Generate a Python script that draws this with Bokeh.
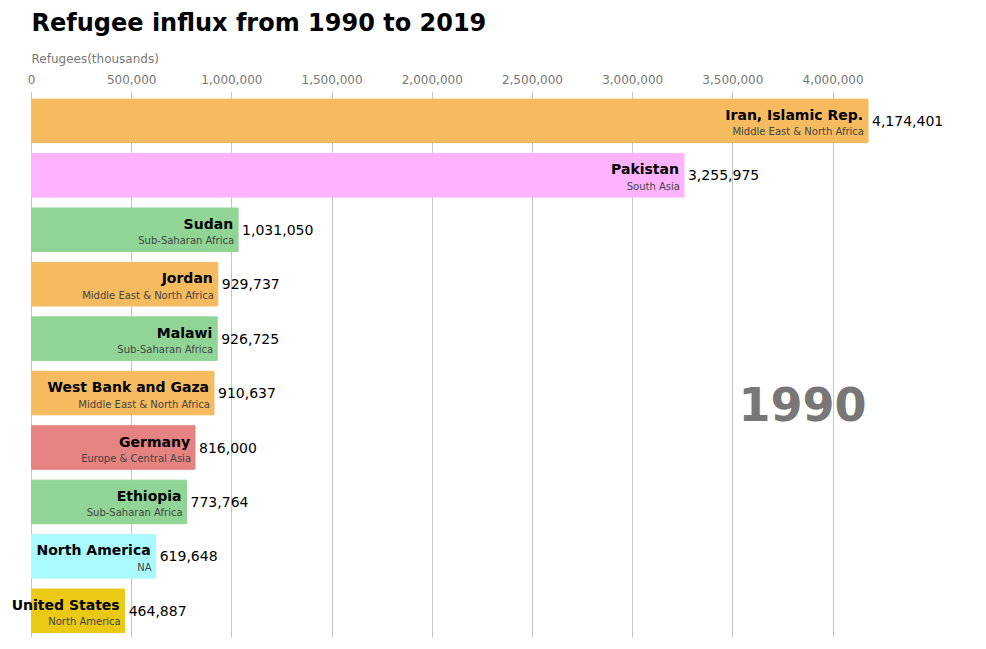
from bokeh.plotting import figure
from bokeh.models import ColumnDataSource, Range1d, FixedTicker, Title, NumeralTickFormatter
from bokeh.embed import file_html
from bokeh.resources import INLINE

# Refugee population by country of asylum, 1990 (top 10)
countries = ["Iran, Islamic Rep.", "Pakistan", "Sudan", "Jordan", "Malawi",
             "West Bank and Gaza", "Germany", "Ethiopia", "North America", "United States"]
regions = ["Middle East & North Africa", "South Asia", "Sub-Saharan Africa",
           "Middle East & North Africa", "Sub-Saharan Africa", "Middle East & North Africa",
           "Europe & Central Asia", "Sub-Saharan Africa", "NA", "North America"]
refugees = [4174401, 3255975, 1031050, 929737, 926725, 910637, 816000, 773764, 619648, 464887]
year = "1990"
tick_values = [0, 500000, 1000000, 1500000, 2000000, 2500000, 3000000, 3500000, 4000000]

region_colors = {
    "Middle East & North Africa": "#f6bb5f",
    "South Asia": "#ffb3ff",
    "Sub-Saharan Africa": "#90d595",
    "Europe & Central Asia": "#e48381",
    "NA": "#aafbff",
    "North America": "#e9c914",
}

FONT = "DejaVu Sans"
LEFT_PAD = 31          # pixels between the canvas edge and the zero line
PX_PER_UNIT = 200.4e-6  # horizontal pixels per refugee
n = len(countries)
rank = [n - 1 - i for i in range(n)]  # top bar gets the highest position

src = ColumnDataSource(dict(
    country=countries,
    region=regions,
    value=refugees,
    rank=rank,
    color=[region_colors[r] for r in regions],
    label=[f"{v:,}" for v in refugees],
))

x_start = -LEFT_PAD / PX_PER_UNIT
p = figure(width=986, height=649, output_backend="svg", toolbar_location=None,
           x_range=Range1d(x_start, 4636000), y_range=Range1d(-0.49, n - 1 + 0.54),
           x_axis_location="above", min_border_left=0, min_border_right=26,
           min_border_bottom=12, min_border_top=10)
p.outline_line_color = None
p.background_fill_color = "white"
p.border_fill_color = "white"

p.title.text = "Refugee influx from 1990 to 2019"
p.title.text_font = FONT
p.title.text_font_size = "24px"
p.title.text_font_style = "bold"
p.title.text_color = "black"
p.title.align = "left"
p.title.offset = LEFT_PAD
p.title.standoff = 13

p.add_layout(Title(text="Refugees(thousands)", text_font=FONT, text_font_size="12px",
                   text_font_style="normal", text_color="#777777", align="left",
                   offset=LEFT_PAD, standoff=12), "above")

xa = p.xaxis[0]
xa.ticker = FixedTicker(ticks=tick_values)
xa.formatter = NumeralTickFormatter(format="0,0")
xa.major_label_text_font = FONT
xa.major_label_text_font_size = "12px"
xa.major_label_text_color = "#777777"
xa.axis_line_color = None
xa.major_tick_line_color = None
xa.minor_tick_line_color = None
xa.major_label_standoff = 2

p.yaxis.visible = False
p.ygrid.grid_line_color = None
p.xgrid.ticker = FixedTicker(ticks=tick_values)
p.xgrid.grid_line_color = "#c4c4c4"
p.xgrid.grid_line_width = 1

p.hbar(y="rank", left=0, right="value", height=0.8, color="color", source=src)

p.text(x="value", y="rank", text="country", source=src, text_align="right",
       text_baseline="alphabetic", x_offset=-5, y_offset=-6,
       text_font_size="14px", text_font_style="bold", text_color="black",
       text_font={"value": FONT})
p.text(x="value", y="rank", text="region", source=src, text_align="right",
       text_baseline="alphabetic", x_offset=-4, y_offset=11,
       text_font_size="10px", text_color="#444444", text_font={"value": FONT})
p.text(x="value", y="rank", text="label", source=src, text_align="left",
       text_baseline="middle", x_offset=4, y_offset=0,
       text_font_size="14px", text_color="black", text_font={"value": FONT})

# Year stamp at the right side of the chart
year_src = ColumnDataSource(dict(x=[4167000], y=[3.80], t=[year]))
p.text(x="x", y="y", text="t", source=year_src, text_align="right", text_baseline="middle",
       text_font_size="46px", text_font_style="bold", text_color="#777777",
       text_font={"value": FONT})

open("out.html", "w").write(file_html(p, INLINE))
